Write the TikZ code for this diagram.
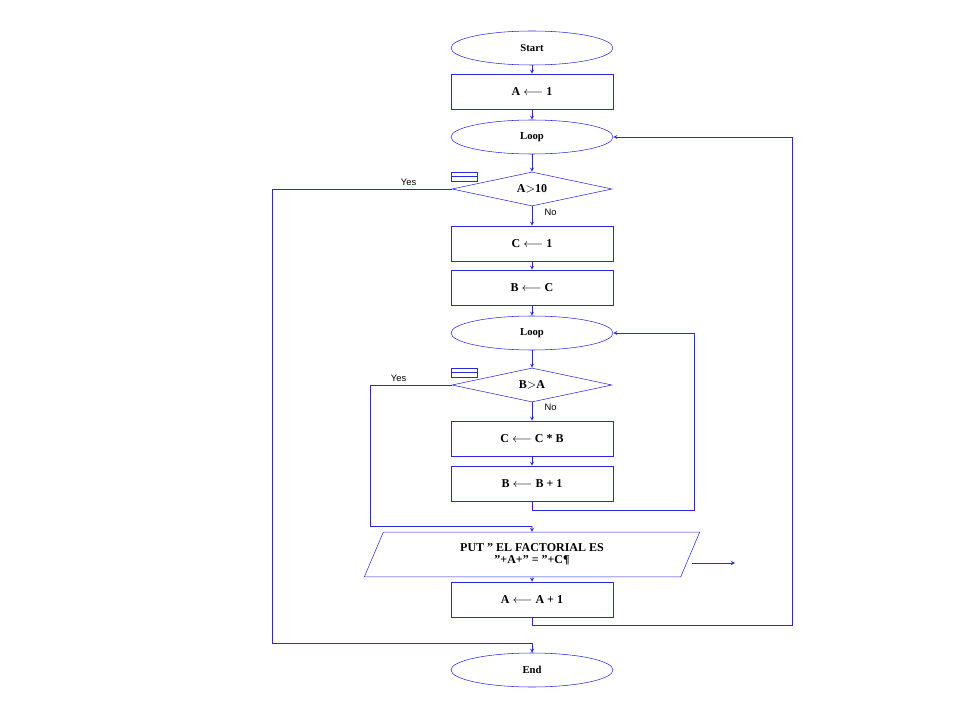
\documentclass[tikz,border=0pt]{standalone}
\usepackage{fontspec}
\setmainfont{Liberation Serif}
\newfontfamily\sansf{Liberation Sans}
\usetikzlibrary{shapes,arrows,positioning,calc}
\definecolor{fc}{RGB}{40,40,220}
\newcommand{\dq}{{\char34}}
\tikzset{
  box/.style={draw=fc,minimum width=121.5pt,minimum height=26.25pt,inner sep=0pt,font=\bfseries\small},
  term/.style={draw=fc,ellipse,minimum width=121.5pt,minimum height=25.5pt,inner sep=0pt,font=\bfseries\footnotesize},
  cond/.style={draw=fc,diamond,aspect=4.7,minimum width=120pt,minimum height=25.5pt,inner sep=0pt,font=\bfseries\small},
  io/.style={draw=fc,trapezium,trapezium left angle=67,trapezium right angle=113,minimum width=252pt,minimum height=26.25pt,inner sep=0pt,font={\bfseries\small\baselineskip=9pt},align=center},
  lbl/.style={font=\sansf\scriptsize},
  flow/.style={draw=fc,-stealth,shorten >=0pt},
  wire/.style={draw=fc}
}
\begin{document}
\begin{tikzpicture}[x=0.75pt,y=-0.75pt]
  \useasboundingbox (0,0) rectangle (960,720);
  \node[term] (start) at (532,48) {Start};
  \node[box] (a1) at (532,91.5) {A $\longleftarrow$ 1};
  \node[term] (loop1) at (532,137) {Loop};
  \node[cond] (d1) at (532,189) {A$>$10};
  \node[box] (c1) at (532,243.5) {C $\longleftarrow$ 1};
  \node[box] (bc) at (532,287.5) {B $\longleftarrow$ C};
  \node[term] (loop2) at (532,333) {Loop};
  \node[cond] (d2) at (532,385) {B$>$A};
  \node[box] (cc) at (532,438.5) {C $\longleftarrow$ C * B};
  \node[box] (bb) at (532,483.5) {B $\longleftarrow$ B + 1};
  \node[io] (put) at (532,554.5) {PUT \dq{} EL FACTORIAL ES\\ \dq+A+\dq{} = \dq+C\P};
  \node[box] (aa) at (532,599.5) {A $\longleftarrow$ A + 1};
  \node[term] (end) at (532,670) {End};
  % small marks
  \draw[fc] (451,172) rectangle (477,181) (451,176.5) -- (477,176.5);
  \draw[fc] (451,368) rectangle (477,377) (451,372.5) -- (477,372.5);
  % main flow
  \draw[flow] (start) -- (a1);
  \draw[flow] (a1) -- (loop1);
  \draw[flow] (loop1) -- (d1);
  \draw[flow] (d1) -- (c1) node[lbl,pos=0.3,right=6pt] {No};
  \draw[flow] (c1) -- (bc);
  \draw[flow] (bc) -- (loop2);
  \draw[flow] (loop2) -- (d2);
  \draw[flow] (d2) -- (cc) node[lbl,pos=0.3,right=6pt] {No};
  \draw[flow] (cc) -- (bb);
  \draw[flow] (put) -- (aa);
  % inner loop
  \coordinate (m1) at (532,526);
  \draw[wire] (bb) -- (532,510) -- (694,510) -- (694,333);
  \draw[flow] (694,333) -- (loop2.east);
  \draw[wire] (d2.west) -- (370,385) node[lbl,pos=0.65,above=-1pt] {Yes} -- (370,526) -- (m1);
  \draw[flow] (m1) -- (put);
  % outer loop
  \coordinate (m2) at (532,643);
  \draw[wire] (aa) -- (532,625) -- (792,625) -- (792,137);
  \draw[flow] (792,137) -- (loop1.east);
  \draw[wire] (d1.west) -- (272,189) node[lbl,pos=0.24,above=-1pt] {Yes} -- (272,643) -- (m2);
  \draw[flow] (m2) -- (end);
  % output
  \coordinate (out) at (735,563);
  \draw[fc,-stealth] (692,563) -- (out);
\end{tikzpicture}
\end{document}
